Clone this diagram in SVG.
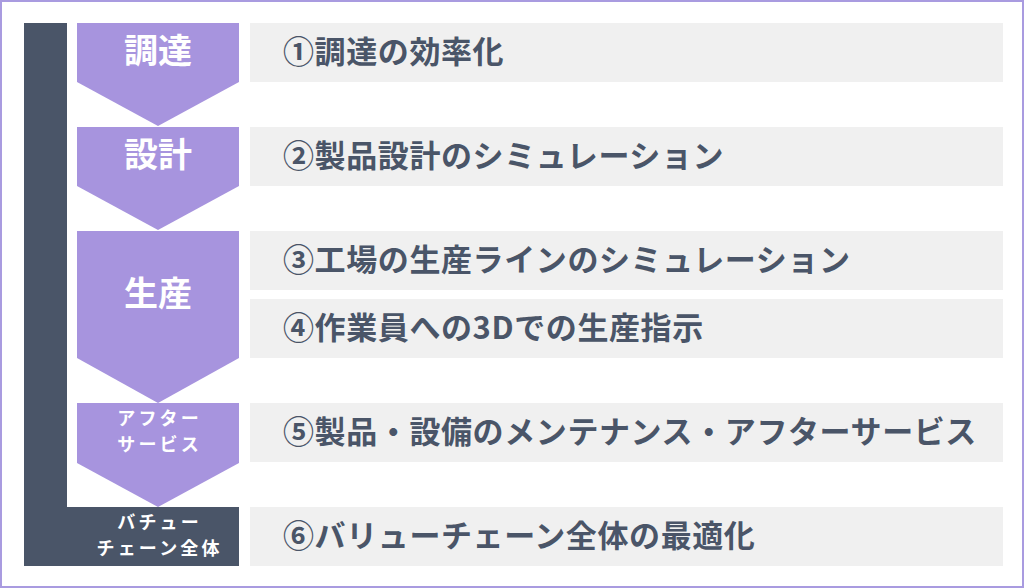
<svg xmlns="http://www.w3.org/2000/svg" width="1024" height="588" viewBox="0 0 1024 588">
<style>
.frame{fill:#ffffff;stroke:#a99be0;stroke-width:2}
.dark{fill:#4a5568}
.chev{fill:#a794de}
.box{fill:#f0f0f0}
.t{font-family:"Noto Sans CJK JP","Noto Sans",sans-serif;font-weight:bold;font-size:31px;letter-spacing:0.6px;fill:#4a5568}
.lbl{font-family:"Noto Sans CJK JP","Noto Sans",sans-serif;font-weight:bold;font-size:34px;fill:#ffffff;text-anchor:middle}
.sm{font-family:"Noto Sans CJK JP","Noto Sans",sans-serif;font-weight:bold;font-size:18px;letter-spacing:3.2px;fill:#ffffff;text-anchor:middle}
</style>
<rect class="frame" x="1" y="1" width="1022" height="586"/>
<g id="value-chain">
<path class="dark" d="M24 23 H67 V507 H239 V566 H24 Z"/>
<text class="sm" x="159.6" y="529">バチュー</text>
<text class="sm" x="159.6" y="555">チェーン全体</text>
</g>
<g id="stage-procure">
<path class="chev" d="M77 23 H239 V82 L158 126 L77 82 Z"/>
<text class="lbl" x="158" y="63">調達</text>
</g>
<g id="stage-design">
<path class="chev" d="M77 127 H239 V186 L158 230 L77 186 Z"/>
<text class="lbl" x="158" y="167">設計</text>
</g>
<g id="stage-production">
<path class="chev" d="M77 231 H239 V358 L158 403 L77 358 Z"/>
<text class="lbl" x="158" y="306">生産</text>
</g>
<g id="stage-after">
<path class="chev" d="M77 403 H239 V463 L158 507 L77 463 Z"/>
<text class="sm" x="159.6" y="425">アフター</text>
<text class="sm" x="159.6" y="451">サービス</text>
</g>
<g id="item1"><rect class="box" x="250" y="23" width="753" height="59"/><text class="t" x="283" y="63">①調達の効率化</text></g>
<g id="item2"><rect class="box" x="250" y="127" width="753" height="59"/><text class="t" x="283" y="167">②製品設計のシミュレーション</text></g>
<g id="item3"><rect class="box" x="250" y="231" width="753" height="59"/><text class="t" x="283" y="271">③工場の生産ラインのシミュレーション</text></g>
<g id="item4"><rect class="box" x="250" y="299" width="753" height="59"/><text class="t" x="283" y="339">④作業員への3Dでの生産指示</text></g>
<g id="item5"><rect class="box" x="250" y="403" width="753" height="59"/><text class="t" x="283" y="443">⑤製品・設備のメンテナンス・アフターサービス</text></g>
<g id="item6"><rect class="box" x="250" y="507" width="753" height="59"/><text class="t" x="283" y="547">⑥バリューチェーン全体の最適化</text></g>
<g id="connectors"></g>
</svg>
